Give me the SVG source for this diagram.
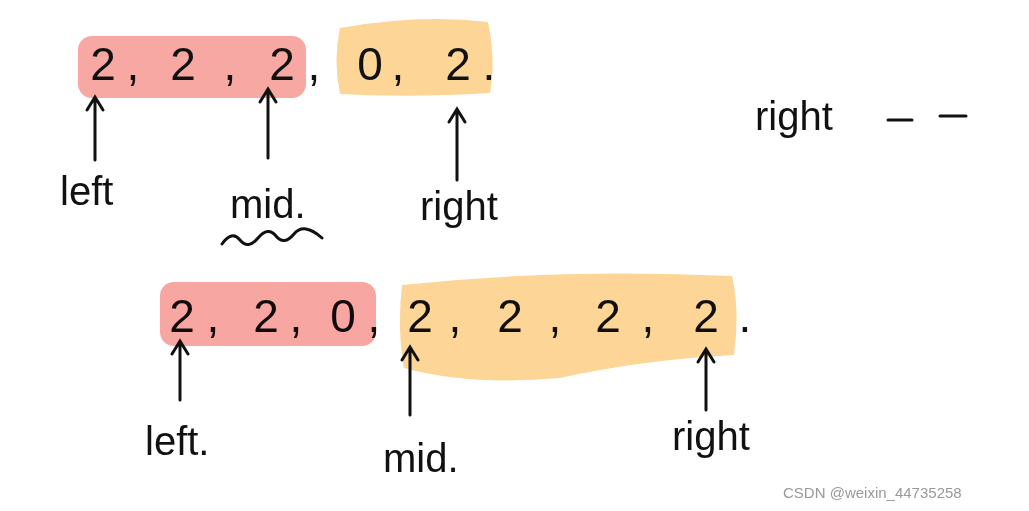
<svg xmlns="http://www.w3.org/2000/svg" width="1029" height="511" viewBox="0 0 1029 511">
<style>
.h{font-family:"Liberation Sans",sans-serif;fill:#111}
.n{font-size:46px;text-anchor:middle}
.l{font-size:40px}
.a{stroke:#111;stroke-width:3;fill:none;stroke-linecap:round}
</style>
<rect width="1029" height="511" fill="#fff"/>
<rect x="78" y="36" width="228" height="62" rx="14" fill="#f7a8a3"/>
<path d="M340 28 Q420 14 488 22 Q496 60 490 93 Q410 98 340 94 Q333 60 340 28Z" fill="#fdd596"/>
<g class="h n">
<text x="103" y="80">2</text><text x="133" y="80">,</text><text x="183" y="80">2</text><text x="230" y="80">,</text><text x="282" y="80">2</text><text x="314" y="80">,</text><text x="370" y="80">0</text><text x="398" y="80">,</text><text x="458" y="80">2</text><text x="489" y="80">.</text>
<text x="182" y="332">2</text><text x="213" y="332">,</text><text x="266" y="332">2</text><text x="296" y="332">,</text><text x="343" y="332">0</text><text x="374" y="332">,</text><text x="420" y="332">2</text><text x="455" y="332">,</text><text x="510" y="332">2</text><text x="555" y="332">,</text><text x="608" y="332">2</text><text x="648" y="332">,</text><text x="706" y="332">2</text><text x="745" y="332">.</text>
</g>
<rect x="160" y="282" width="216" height="64" rx="14" fill="#f8a6a2" style="mix-blend-mode:multiply"/>
<path d="M402 285 Q560 268 732 276 Q740 310 734 355 Q640 360 560 378 Q470 386 404 368 Q397 330 402 285Z" fill="#fdd596" style="mix-blend-mode:multiply"/>
<g class="a">
<path d="M95 160V98M87 110L95 97L103 110"/>
<path d="M268 158V90M260 102L268 89L276 102"/>
<path d="M457 180V110M449 122L457 109L465 122"/>
<path d="M180 400V342M172 354L180 341L188 354"/>
<path d="M410 415V348M402 360L410 347L418 360"/>
<path d="M706 410V350M698 362L706 349L714 362"/>
<path d="M222 244 Q232 230 240 240 T258 238 T276 236 T294 234 T322 238"/>
<path d="M888 120H912M940 116H966"/>
</g>
<text class="h l" x="60" y="205">left</text>
<text class="h l" x="230" y="218">mid.</text>
<text class="h l" x="420" y="220">right</text>
<text class="h l" x="755" y="130">right</text>
<text class="h l" x="145" y="455">left.</text>
<text class="h l" x="383" y="472">mid.</text>
<text class="h l" x="672" y="450">right</text>
<text x="783" y="498" style="font-family:'Liberation Sans',sans-serif;font-size:15px;fill:#999">CSDN @weixin_44735258</text>
</svg>
